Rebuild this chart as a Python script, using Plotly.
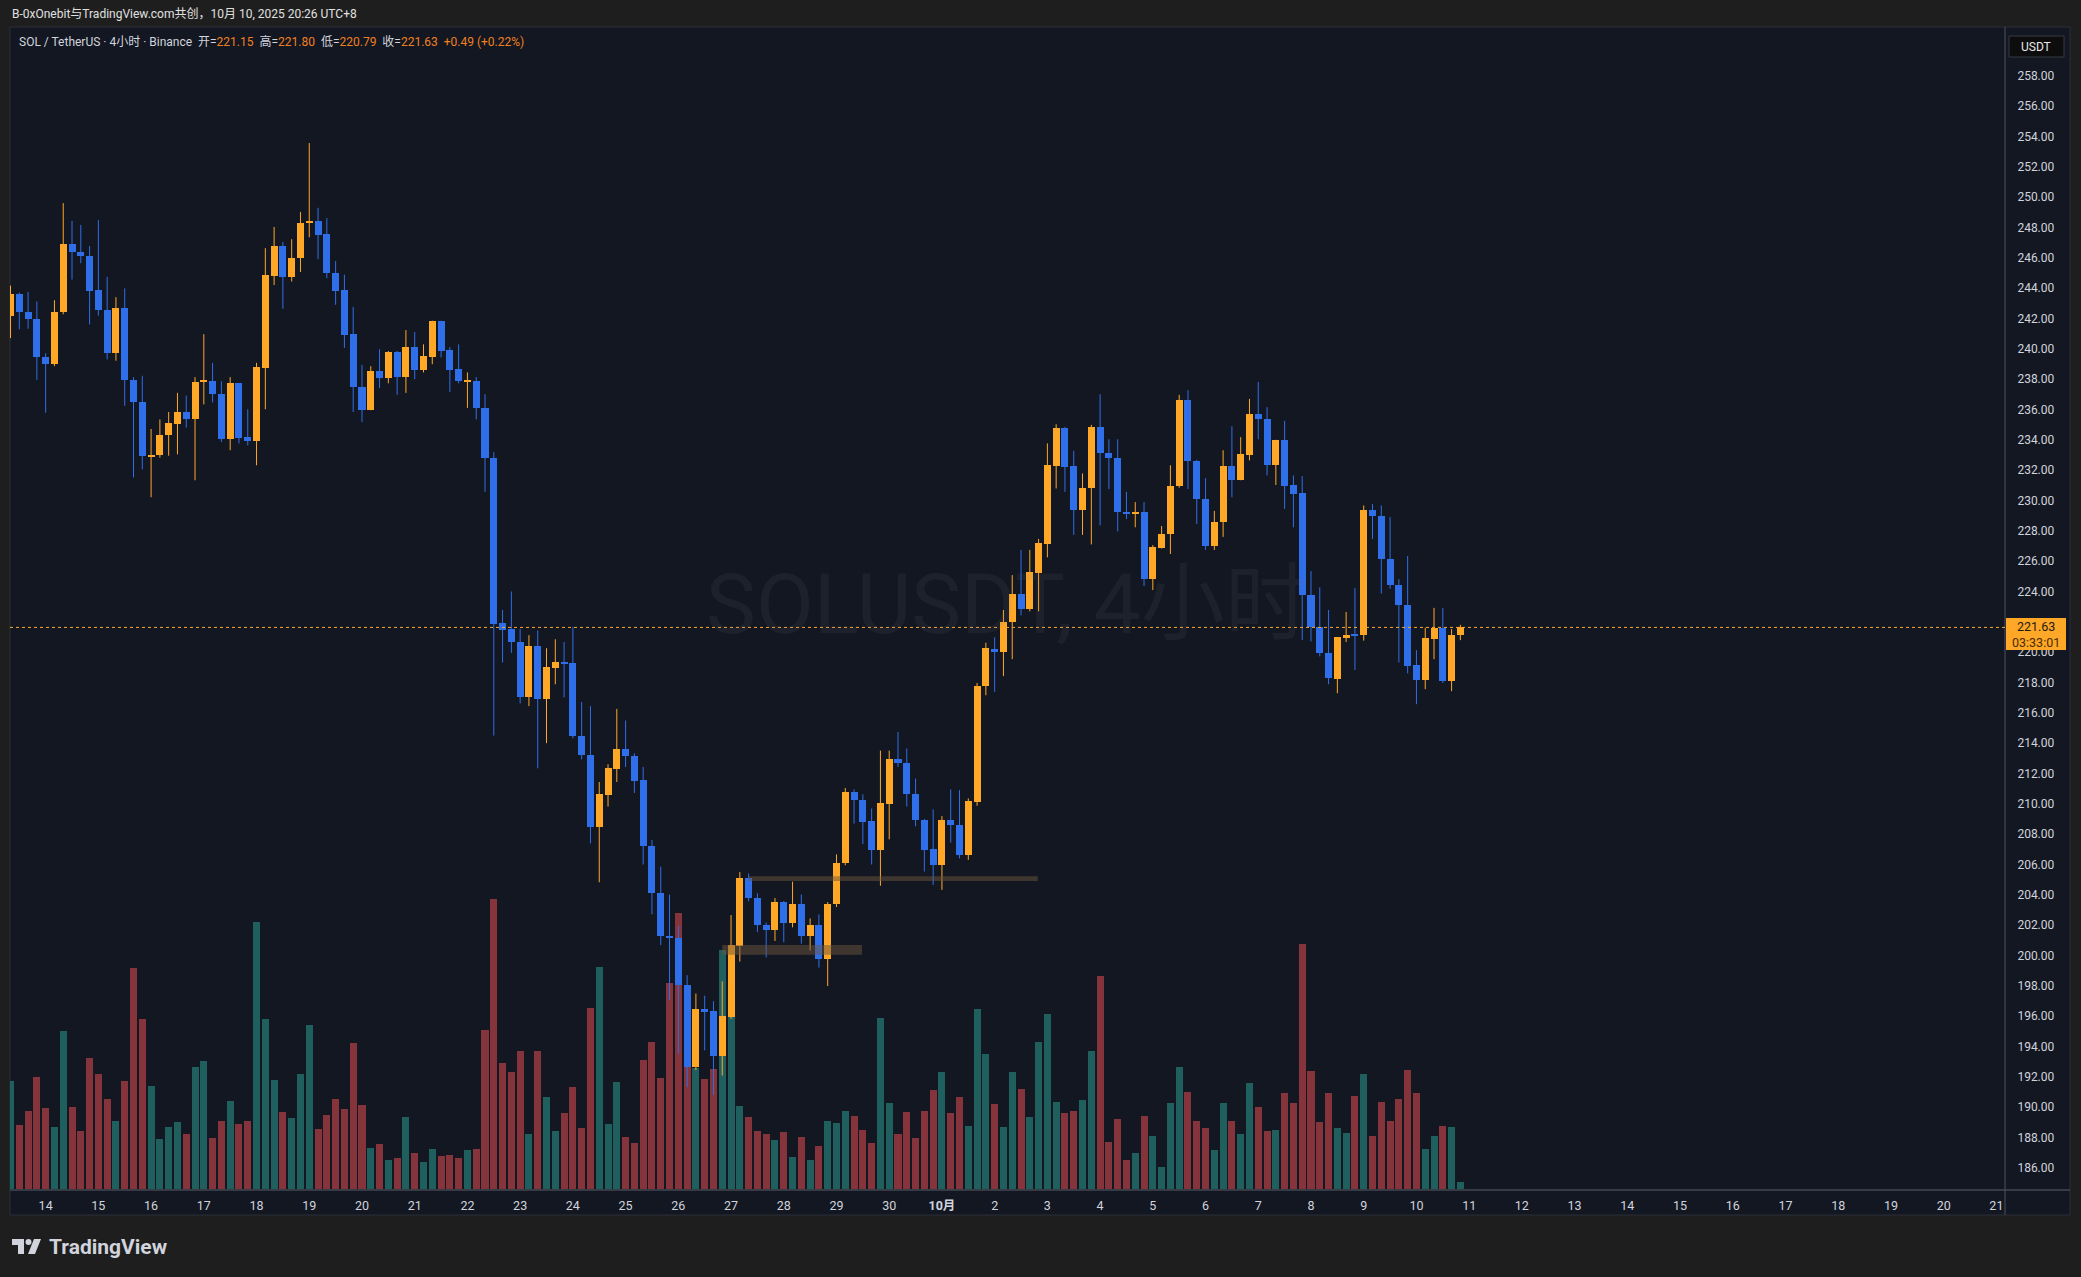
import plotly.graph_objects as go

# ---------------- data (4h candles, SOL/USDT, from 13 Sep 08:00 to 10 Oct 20:00, UTC+8) -------------
opens = [242.18, 243.62, 242.45, 241.95, 239.43, 238.98, 242.40, 246.90, 246.40, 246.10,
         243.85, 242.54, 239.70, 242.67, 237.95, 236.46, 232.92, 232.98, 234.30, 235.07,
         235.83, 235.34, 237.81, 237.86, 237.00, 234.08, 237.72, 234.15, 233.90, 238.75,
         244.82, 246.77, 244.74, 245.96, 248.30, 248.42, 247.55, 245.02, 243.85, 240.95,
         237.50, 235.97, 238.53, 238.08, 239.79, 238.13, 240.11, 238.58, 239.45, 241.82,
         239.90, 238.65, 237.86, 237.90, 236.12, 232.82, 221.90, 221.50, 220.70, 217.02,
         220.40, 216.89, 218.96, 219.32, 219.26, 214.50, 213.25, 208.47, 210.58, 212.30,
         213.60, 213.18, 211.58, 207.24, 204.13, 201.27, 201.15, 198.08, 192.63, 196.45,
         196.32, 193.35, 195.95, 200.62, 205.14, 203.82, 202.02, 201.67, 203.52, 202.13,
         203.43, 201.31, 202.04, 199.74, 203.38, 206.08, 210.81, 210.23, 208.88, 206.99,
         210.00, 212.93, 212.70, 210.66, 208.95, 207.04, 205.95, 208.92, 208.63, 206.63,
         210.12, 217.74, 220.23, 219.99, 222.02, 223.82, 222.83, 225.22, 227.12, 232.30,
         234.75, 232.24, 229.35, 230.79, 234.84, 233.16, 232.82, 229.22, 229.13, 229.22,
         224.81, 226.88, 227.80, 230.93, 236.60, 232.62, 230.12, 226.97, 228.55, 232.28,
         231.33, 233.02, 235.70, 235.34, 232.32, 233.99, 231.00, 230.46, 223.80, 221.68,
         219.97, 218.20, 220.94, 221.16, 221.10, 229.35, 229.00, 226.15, 224.45, 223.12,
         219.12, 218.19, 220.88, 221.61, 218.10, 221.15]
highs = [244.16, 243.70, 243.75, 243.12, 239.70, 243.20, 249.60, 248.43, 248.16, 246.77,
         248.48, 244.74, 243.40, 243.98, 238.13, 238.22, 234.71, 235.34, 235.83, 237.09,
         236.91, 238.13, 240.96, 239.07, 237.86, 238.13, 237.75, 236.01, 239.07, 246.63,
         248.03, 247.04, 247.22, 249.02, 253.56, 249.29, 248.61, 245.78, 244.88, 242.76,
         238.94, 238.85, 239.97, 239.85, 239.85, 241.23, 241.10, 240.29, 241.85, 241.85,
         240.11, 240.29, 238.44, 238.13, 237.00, 233.18, 222.78, 224.00, 221.52, 221.12,
         221.43, 220.26, 220.85, 220.67, 221.66, 216.71, 216.44, 211.44, 212.61, 216.26,
         215.49, 213.33, 212.43, 207.62, 205.86, 204.02, 201.95, 198.70, 197.49, 197.35,
         196.99, 198.30, 202.67, 205.50, 205.41, 204.11, 202.17, 203.79, 203.60, 204.87,
         204.02, 202.44, 202.71, 203.52, 206.67, 211.04, 210.95, 210.63, 209.69, 213.51,
         213.51, 214.73, 213.65, 211.67, 209.00, 209.64, 209.19, 210.95, 210.90, 210.36,
         217.97, 220.62, 220.98, 222.78, 225.08, 226.74, 226.74, 227.46, 233.76, 235.02,
         234.84, 233.27, 231.78, 234.98, 237.00, 234.03, 234.03, 230.57, 229.89, 229.89,
         227.06, 228.32, 232.32, 236.96, 237.27, 232.68, 231.47, 229.31, 233.31, 234.89,
         234.17, 236.69, 237.81, 236.15, 234.00, 235.25, 231.65, 231.60, 225.35, 224.27,
         222.78, 221.00, 222.65, 224.22, 229.67, 229.76, 229.67, 228.90, 224.81, 226.34,
         220.13, 221.61, 222.92, 222.92, 221.52, 221.80]
lows = [240.70, 241.28, 241.32, 237.95, 235.79, 238.85, 242.27, 244.56, 245.64, 241.60,
        242.18, 239.30, 239.21, 236.24, 231.51, 232.05, 230.21, 232.82, 232.95, 233.04,
        234.80, 231.33, 236.33, 236.46, 233.85, 233.31, 233.76, 233.63, 232.32, 236.01,
        244.20, 242.63, 244.43, 245.06, 247.35, 245.91, 244.65, 242.90, 240.06, 235.83,
        235.16, 235.95, 237.41, 237.72, 236.96, 237.09, 237.99, 238.44, 238.98, 239.43,
        237.14, 237.72, 236.10, 235.34, 230.57, 214.50, 219.32, 219.95, 216.62, 216.44,
        212.34, 214.00, 217.88, 217.02, 214.32, 212.93, 207.39, 204.83, 209.82, 211.44,
        212.43, 210.72, 206.00, 202.71, 200.69, 197.04, 193.53, 191.32, 192.45, 193.75,
        190.83, 192.09, 195.82, 199.60, 203.57, 201.54, 199.87, 200.96, 200.87, 201.86,
        200.78, 200.33, 199.20, 197.99, 203.20, 205.95, 208.70, 207.35, 206.00, 204.60,
        207.66, 212.43, 209.82, 208.52, 205.54, 204.65, 204.33, 207.44, 206.40, 206.31,
        209.87, 217.16, 217.38, 218.42, 219.54, 222.42, 222.69, 222.69, 226.25, 230.79,
        230.57, 227.73, 227.73, 227.10, 228.36, 230.75, 227.96, 228.77, 228.23, 224.36,
        224.09, 226.83, 226.47, 230.84, 230.75, 228.45, 226.74, 226.74, 227.60, 230.21,
        231.33, 232.64, 234.03, 231.65, 231.02, 229.44, 228.23, 220.80, 220.71, 219.72,
        217.88, 217.29, 220.67, 218.82, 220.76, 227.46, 223.86, 224.18, 219.32, 218.60,
        216.57, 217.56, 219.54, 217.97, 217.43, 220.79]
closes = [243.62, 242.45, 241.95, 239.43, 238.98, 242.40, 246.90, 246.36, 246.10, 243.80,
          242.54, 239.70, 242.67, 237.95, 236.46, 232.95, 232.98, 234.30, 235.11, 235.83,
          235.34, 237.81, 237.86, 237.00, 234.08, 237.72, 234.12, 233.90, 238.80, 244.88,
          246.77, 244.74, 245.96, 248.30, 248.39, 247.49, 244.97, 243.80, 240.92, 237.45,
          235.97, 238.53, 238.08, 239.79, 238.13, 240.11, 238.58, 239.52, 241.82, 239.84,
          238.58, 237.86, 237.92, 236.10, 232.77, 221.84, 221.43, 220.67, 217.02, 220.40,
          216.89, 219.00, 219.32, 219.26, 214.46, 213.20, 208.47, 210.63, 212.34, 213.60,
          213.15, 211.53, 207.21, 204.11, 201.27, 201.20, 198.03, 192.63, 196.45, 196.32,
          193.35, 196.00, 200.69, 205.14, 203.79, 201.99, 201.67, 203.52, 202.13, 203.43,
          201.31, 202.04, 199.74, 203.43, 206.13, 210.81, 210.23, 208.83, 206.99, 210.05,
          212.93, 212.66, 210.63, 208.92, 206.99, 205.95, 208.92, 208.61, 206.63, 210.18,
          217.74, 220.26, 219.99, 222.02, 223.82, 222.83, 225.26, 227.19, 232.32, 234.75,
          232.19, 229.35, 230.79, 234.84, 233.13, 232.77, 229.22, 229.13, 229.20, 224.81,
          226.92, 227.82, 230.93, 236.60, 232.59, 230.07, 226.97, 228.59, 232.28, 231.33,
          233.04, 235.70, 235.34, 232.32, 233.99, 230.93, 230.43, 223.77, 221.66, 219.95,
          218.28, 220.98, 221.16, 221.10, 229.35, 228.95, 226.11, 224.40, 223.10, 219.09,
          218.19, 220.94, 221.61, 218.10, 221.14, 221.63]
volumes = [158, 94, 114, 164, 119, 91, 232, 120, 85, 192, 169, 132, 100, 158, 323, 249, 151, 73, 91, 98,
           81, 179, 188, 75, 100, 129, 95, 100, 391, 249, 160, 113, 104, 169, 240, 88, 109, 132, 117, 214,
           123, 60, 66, 43, 46, 106, 53, 40, 59, 48, 50, 46, 57, 59, 233, 425, 185, 172, 202, 81,
           202, 135, 85, 111, 150, 90, 265, 325, 95, 157, 76, 68, 189, 216, 163, 302, 405, 230, 177, 161,
           176, 350, 265, 122, 106, 85, 81, 72, 84, 47, 76, 43, 63, 100, 97, 114, 107, 87, 68, 251,
           126, 81, 113, 75, 114, 145, 172, 111, 135, 92, 264, 198, 125, 91, 172, 147, 106, 216, 257, 128,
           111, 114, 131, 202, 312, 69, 103, 43, 53, 107, 78, 32, 126, 179, 142, 100, 90, 57, 126, 100,
           81, 155, 120, 85, 87, 141, 126, 359, 173, 98, 141, 90, 82, 136, 169, 78, 128, 100, 132, 175,
           141, 59, 78, 92, 91, 10]

day_labels = ["14", "15", "16", "17", "18", "19", "20", "21", "22", "23", "24", "25", "26", "27",
              "28", "29", "30", "<b>10月</b>", "2", "3", "4", "5", "6", "7", "8", "9", "10", "11",
              "12", "13", "14", "15", "16", "17", "18", "19", "20", "21"]
first_midnight_bar = 4      # bar index of 14 Sep 00:00
bars_per_day = 6
# price scale labels (222.00 is hidden behind the last-price tag in the original)
price_ticks = [v for v in range(186, 259, 2) if v != 222]

# horizontal zones drawn on chart (bar index span, price span)
zone_x0 = [84.0, 81.0]
zone_x1 = [116.9, 96.9]
zone_lo = [204.92, 200.06]
zone_hi = [205.23, 200.69]

last_price = closes[-1]
prev_close = closes[-2]

# ---------------- layout geometry ----------------
W, H = 2081, 1277
ML, MR, MT, MB = 10, 76, 27, 88
PW = W - ML - MR
PH = H - MT - MB


def px(x):
    return (x - ML) / PW


def py(y):
    return (H - MB - y) / PH


UP = "#ffa726"
DOWN = "#2f6fe9"
VUP = "#1f5f5e"
VDOWN = "#84343a"
BG = "#131722"
OUTER = "#1e1e1e"

n = len(closes)
idx = list(range(n))
is_up = [closes[i] >= opens[i] for i in idx]

fig = go.Figure()

# volume (primary axis, drawn first, behind candles)
fig.add_trace(go.Bar(
    x=idx, y=volumes, width=0.8,
    marker=dict(color=[VUP if u else VDOWN for u in is_up], line=dict(width=0)),
    yaxis="y", xaxis="x", hoverinfo="skip", showlegend=False))

for up, col in ((True, UP), (False, DOWN)):
    sel = [i for i in idx if is_up[i] == up]
    wx, wy = [], []
    for i in sel:
        wx += [i, i, None]
        wy += [lows[i], highs[i], None]
    fig.add_trace(go.Scatter(x=wx, y=wy, mode="lines", line=dict(color=col, width=1),
                             yaxis="y2", hoverinfo="skip", showlegend=False))
    fig.add_trace(go.Bar(
        x=sel,
        base=[min(opens[i], closes[i]) for i in sel],
        y=[max(abs(closes[i] - opens[i]), 0.07) for i in sel],
        width=0.8, marker=dict(color=col, line=dict(width=0)),
        yaxis="y2", hoverinfo="skip", showlegend=False))

tick_vals_x = [first_midnight_bar + bars_per_day * k for k in range(len(day_labels))]

shapes = []
# panel background and frame
shapes.append(dict(type="rect", xref="paper", yref="paper", x0=px(10), x1=px(2070), y0=py(1215), y1=py(27),
                   fillcolor=BG, line=dict(color="#2a2e39", width=1), layer="below"))
# separators
shapes.append(dict(type="line", xref="paper", yref="paper", x0=px(10), x1=px(2070), y0=py(1190), y1=py(1190),
                   line=dict(color="#5d606b", width=1)))
shapes.append(dict(type="line", xref="paper", yref="paper", x0=px(2005), x1=px(2005), y0=py(1215), y1=py(27),
                   line=dict(color="#50535e", width=1)))
# zones
for a, b, lo, hi in zip(zone_x0, zone_x1, zone_lo, zone_hi):
    shapes.append(dict(type="rect", xref="x", yref="y2", x0=a, x1=b, y0=lo, y1=hi,
                       fillcolor="rgba(110,86,62,0.5)", line=dict(width=0), layer="above"))
# last price dotted line
shapes.append(dict(type="line", xref="paper", yref="y2", x0=0, x1=1, y0=last_price, y1=last_price,
                   line=dict(color=UP, width=1, dash="dot")))
# price label box
shapes.append(dict(type="rect", xref="paper", yref="paper", x0=px(2006), x1=px(2066), y0=py(650), y1=py(618),
                   fillcolor=UP, line=dict(width=0), layer="above"))
# USDT box
shapes.append(dict(type="rect", xref="paper", yref="paper", x0=px(2009), x1=px(2064), y0=py(57), y1=py(36),
                   fillcolor="#0d0d0d", line=dict(color="#363a45", width=1), layer="above"))


# TradingView logo pieces
def ppath(pts):
    return "M" + " L".join(f"{px(x):.5f},{py(y):.5f}" for x, y in pts) + " Z"


logo_col = "#d1d4dc"
shapes.append(dict(type="path", xref="paper", yref="paper",
                   path=ppath([(12, 1239), (24, 1239), (24, 1254), (18, 1254), (18, 1245), (12, 1245)]),
                   fillcolor=logo_col, line=dict(width=0)))
shapes.append(dict(type="circle", xref="paper", yref="paper", x0=px(25.5), x1=px(31.5), y0=py(1245), y1=py(1239),
                   fillcolor=logo_col, line=dict(width=0)))
shapes.append(dict(type="path", xref="paper", yref="paper",
                   path=ppath([(34, 1239), (41, 1239), (35, 1254), (28, 1254)]),
                   fillcolor=logo_col, line=dict(width=0)))

FONT = "Roboto, 'Noto Sans CJK SC', sans-serif"
ann = []
ann.append(dict(xref="paper", yref="paper", x=px(10), y=py(14), xanchor="left", yanchor="middle",
                text="B-0xOnebit与TradingView.com共创，10月 10, 2025 20:26 UTC+8", showarrow=False,
                font=dict(family=FONT, size=12, color="#e0e0e0")))
vc = "#f0801f"
chg = last_price - prev_close
legend_text = (f"SOL / TetherUS · 4小时 · Binance  开=<span style='color:{vc}'>{opens[-1]:.2f}</span>"
               f"  高=<span style='color:{vc}'>{highs[-1]:.2f}</span>"
               f"  低=<span style='color:{vc}'>{lows[-1]:.2f}</span>"
               f"  收=<span style='color:{vc}'>{last_price:.2f}</span>"
               f"  <span style='color:{vc}'>+{chg:.2f} (+{chg / prev_close * 100:.2f}%)</span>")
ann.append(dict(xref="paper", yref="paper", x=px(17), y=py(42), xanchor="left", yanchor="middle",
                text=legend_text, showarrow=False, font=dict(family=FONT, size=12, color="#d1d4dc")))
ann.append(dict(xref="paper", yref="paper", x=px(1007), y=py(604), xanchor="center", yanchor="middle",
                text="SOLUSDT, 4小时", showarrow=False,
                font=dict(family=FONT, size=84, color="rgba(120,123,134,0.10)")))
ann.append(dict(xref="paper", yref="paper", x=px(2036), y=py(634), xanchor="center", yanchor="middle",
                text=f"<span style='color:#1a1a1a'>{last_price:.2f}</span><br>"
                     f"<span style='color:#4a2c00'>03:33:01</span>", showarrow=False,
                font=dict(family=FONT, size=12.5, color="#1a1a1a")))
ann.append(dict(xref="paper", yref="paper", x=px(2036), y=py(46.5), xanchor="center", yanchor="middle",
                text="USDT", showarrow=False, font=dict(family=FONT, size=12, color="#e8e8e8")))
ann.append(dict(xref="paper", yref="paper", x=px(47), y=py(1246.5), xanchor="left", yanchor="middle",
                text="<b>TradingView</b>", showarrow=False, font=dict(family=FONT, size=21, color="#d1d4dc")))

fig.update_layout(
    width=W, height=H,
    margin=dict(l=ML, r=MR, t=MT, b=MB, pad=0),
    paper_bgcolor=OUTER, plot_bgcolor=BG,
    barmode="overlay", bargap=0, showlegend=False,
    xaxis=dict(range=[-0.057, 226.98], showgrid=False, zeroline=False, showline=False,
               tickmode="array", tickvals=tick_vals_x, ticktext=day_labels,
               ticks="outside", ticklen=5, tickcolor="rgba(0,0,0,0)",
               tickfont=dict(family=FONT, size=12.5, color="#d1d4dc"), fixedrange=True),
    yaxis=dict(range=[0, 1702], visible=False, fixedrange=True),
    yaxis2=dict(overlaying="y", side="right", range=[184.61, 261.21], showgrid=False, zeroline=False,
                showline=False, tickmode="array", tickvals=price_ticks,
                ticktext=[f"{v:.2f}" for v in price_ticks],
                ticks="outside", ticklen=9, tickcolor="rgba(0,0,0,0)",
                tickfont=dict(family=FONT, size=12, color="#d1d4dc"), fixedrange=True),
    shapes=shapes, annotations=ann,
    font=dict(family=FONT),
)

fig.write_html("out.html", config={"displayModeBar": False},
               post_script="document.body.style.margin='0';document.body.style.background='#1e1e1e';")
